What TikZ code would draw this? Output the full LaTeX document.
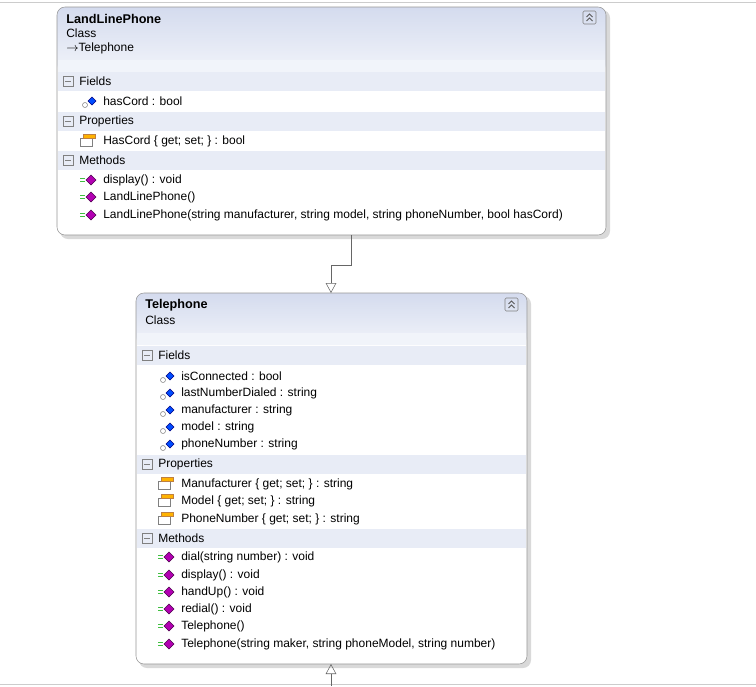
\documentclass[tikz,border=0pt]{standalone}
\usepackage{fontspec}
\setmainfont{Liberation Sans}
\usetikzlibrary{arrows.meta}
\definecolor{boxline}{RGB}{150,150,150}
\definecolor{headtop}{RGB}{212,219,238}
\definecolor{band}{RGB}{232,236,246}
\tikzset{
  txt/.style={anchor=west, inner sep=0pt, font=\fontsize{9}{10}\selectfont},
  titletxt/.style={txt, font=\fontsize{9.5}{10}\selectfont\bfseries},
  fieldicon/.style={fill=blue!70!cyan, draw=blue!50!black, line width=0.3pt},
  propicon/.style={fill=orange!60!yellow, draw=brown, line width=0.3pt},
  methicon/.style={fill=violet!60!magenta, draw=violet!60!black, line width=0.3pt}
}
\newcommand{\fieldrow}[4]{%
  \fill[fieldicon] (#1,#2) -- ++(4,-4) -- ++(4,4) -- ++(-4,4) -- cycle;
  \draw[gray] (#1-3,#2+4) circle (2.5);
  \node[txt] (#3) at (#1+15,#2+0.5) {#4};}
\newcommand{\proprow}[4]{%
  \filldraw[fill=white, draw=gray] (#1-8,#2-3) rectangle ++(12,8);
  \fill[propicon] (#1-5,#2-3) rectangle ++(12,-4);
  \node[txt] (#3) at (#1+15,#2+0.5) {#4};}
\newcommand{\methrow}[4]{%
  \draw[green!50!gray] (#1-8,#2-1.5) -- ++(5,0) (#1-8,#2+1.5) -- ++(5,0);
  \fill[methicon] (#1+3,#2-5) -- ++(5,5) -- ++(-5,5) -- ++(-5,-5) -- cycle;
  \node[txt] (#3) at (#1+15,#2+0.5) {#4};}
\newcommand{\secthead}[5]{%
  \fill[band] (#1+1,#3-9.5) rectangle (#2-1,#3+9.5);
  \draw[gray] (#1+6,#3-5) rectangle ++(10,10) (#1+8,#3) -- ++(6,0);
  \node[txt] (#4) at (#1+22,#3+0.5) {#5};}
\newcommand{\collapsebtn}[2]{%
  \draw[gray, rounded corners=1] (#1,#2) rectangle ++(13,13);
  \draw[gray!70!black, line width=0.6pt] (#1+3.5,#2+6) -- ++(3,-3) -- ++(3,3)
    (#1+3.5,#2+10) -- ++(3,-3) -- ++(3,3);}
\begin{document}
\begin{tikzpicture}[x=0.75pt,y=-0.75pt]
  \useasboundingbox (0,0) rectangle (756,686);
  \draw[black!20] (0,2) -- (756,2);
  \draw[black!20] (0,684) -- (756,684);

  % LandLinePhone
  \fill[black!15, rounded corners=6] (60,10) rectangle (610,239);
  \fill[white, rounded corners=6] (57,7) rectangle (606,235);
  \shade[rounded corners=6, top color=headtop, bottom color=band!60] (57,7) rectangle (606,72);
  \fill[band!60] (58,60) rectangle (605,72);
  \draw[boxline, rounded corners=6] (57,7) rectangle (606,235);
  \node[titletxt] (llTitle) at (66,18.5) {LandLinePhone};
  \node[txt] (llKind) at (66,33.5) {Class};
  \node[txt] (llBase) at (66,48.5) {$\rightarrow$Telephone};
  \collapsebtn{583}{11}
  \secthead{57}{606}{81}{llFields}{Fields}
  \fieldrow{88}{101}{llF1}{hasCord : bool}
  \secthead{57}{606}{121}{llProps}{Properties}
  \proprow{88}{141}{llP1}{HasCord \{ get; set; \} : bool}
  \secthead{57}{606}{160}{llMeths}{Methods}
  \methrow{88}{180}{llM1}{display() : void}
  \methrow{88}{197}{llM2}{LandLinePhone()}
  \methrow{88}{215}{llM3}{LandLinePhone(string manufacturer,\ string model,\ string phoneNumber,\ bool hasCord)}

  % Telephone
  \fill[black!15, rounded corners=6] (139,296) rectangle (531,668);
  \fill[white, rounded corners=6] (136,293) rectangle (527,664);
  \shade[rounded corners=6, top color=headtop, bottom color=band!60] (136,293) rectangle (527,345);
  \fill[band!60] (137,333) rectangle (526,345);
  \draw[boxline, rounded corners=6] (136,293) rectangle (527,664);
  \node[titletxt] (telTitle) at (145,305.5) {Telephone};
  \node[txt] (telKind) at (145,320.5) {Class};
  \collapsebtn{505}{298}
  \secthead{136}{527}{355}{telFields}{Fields}
  \fieldrow{166}{376}{telF1}{isConnected : bool}
  \fieldrow{166}{393}{telF2}{lastNumberDialed : string}
  \fieldrow{166}{410}{telF3}{manufacturer : string}
  \fieldrow{166}{427}{telF4}{model : string}
  \fieldrow{166}{444}{telF5}{phoneNumber : string}
  \secthead{136}{527}{464}{telProps}{Properties}
  \proprow{166}{484}{telP1}{Manufacturer \{ get; set; \} : string}
  \proprow{166}{501}{telP2}{Model \{ get; set; \} : string}
  \proprow{166}{519}{telP3}{PhoneNumber \{ get; set; \} : string}
  \secthead{136}{527}{538}{telMeths}{Methods}
  \methrow{166}{557}{telM1}{dial(string number) : void}
  \methrow{166}{575}{telM2}{display() : void}
  \methrow{166}{592}{telM3}{handUp() : void}
  \methrow{166}{609}{telM4}{redial() : void}
  \methrow{166}{626}{telM5}{Telephone()}
  \methrow{166}{644}{telM6}{Telephone(string maker, string phoneModel, string number)}

  % inheritance
  \coordinate (llBottom) at (351,235);
  \coordinate (telTop) at (331,293);
  \coordinate (telBottom) at (331,664);
  \coordinate (subTop) at (331,686);
  \draw[gray!80!black, -{Triangle[open, length=7.5pt, width=8pt]}] (llBottom) -- ++(0,30) -| (telTop);
  \draw[gray!80!black, -{Triangle[open, length=7.5pt, width=8pt]}] (subTop) -- (telBottom);
\end{tikzpicture}
\end{document}
